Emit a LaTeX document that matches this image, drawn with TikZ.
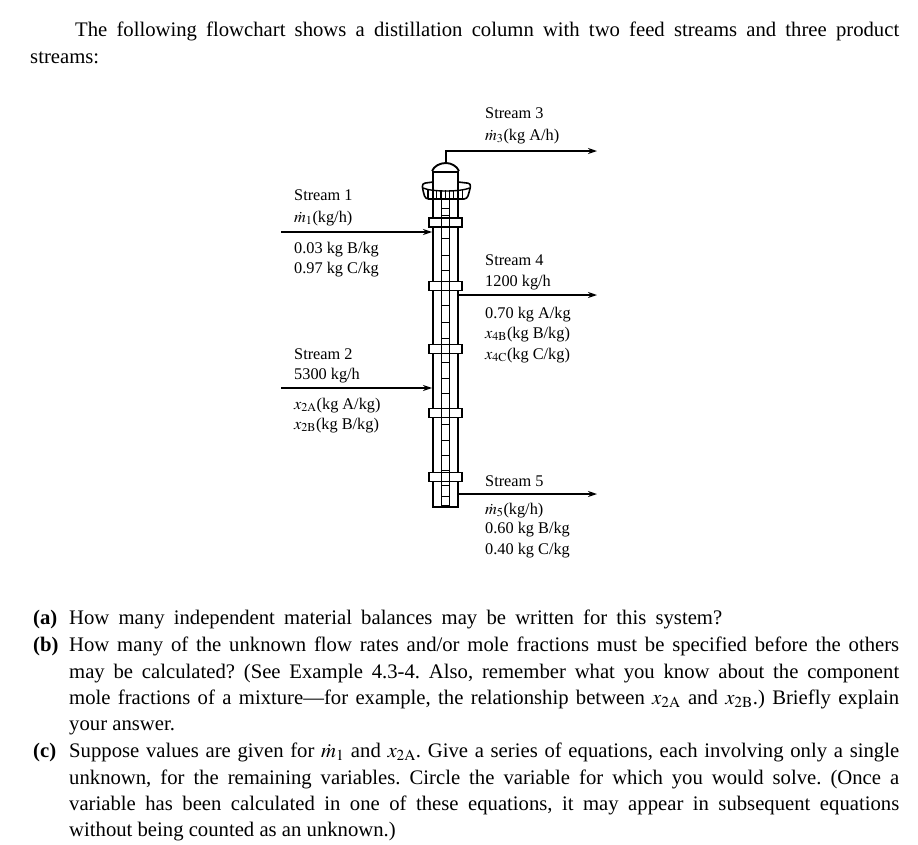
\documentclass[tikz,border=0pt]{standalone}
\usepackage{amsmath}
\usepackage{mathptmx}
\usepackage{fontspec}
\setmainfont{Liberation Serif}
\usepackage{tikz}
\usetikzlibrary{arrows.meta,positioning,calc}

\newcommand{\xsub}[1]{x_{\mathrm{#1}}}
\tikzset{
	label text/.style={anchor=base west, inner sep=0pt, font=\fontsize{16.3}{20}\selectfont},
	body text/.style={anchor=north west, inner sep=0pt, align=justify, font=\fontsize{20.7}{26.3}\selectfont\frenchspacing},
	item tag/.style={anchor=north west, inner sep=0pt, font=\fontsize{20.7}{26.3}\selectfont\bfseries},
	flow/.style={line width=1.5pt, -{Stealth[length=9pt,width=6pt]}},
	flange/.style={draw, fill=white, line width=1.9pt, minimum width=33pt, minimum height=9pt, inner sep=0pt},
	shell/.style={draw, line width=1.9pt, minimum width=25pt, minimum height=335pt, inner sep=0pt},
	ladder/.style={line width=1pt}
}

\begin{document}
\begin{tikzpicture}[x=1pt,y=-1pt]
	\useasboundingbox (0,0) rectangle (918,844);

	% text above the column
	\node[body text, text width=869pt] (intro) at (30,22) {\hspace*{45pt}The following flowchart shows a distillation column with two feed streams and three product\linebreak streams:};

	% column
	\node[shell] (column) at (445.5,339.5) {};
	\coordinate (domeleft) at (column.north west);
	\coordinate (domeright) at (column.north east);
	\coordinate (dometop) at (446,163);
	\draw[line width=1.9pt] (domeleft) .. controls (434,166) and (440,163) .. (dometop) .. controls (451,163) and (457,166) .. (domeright);
	\draw[line width=1.6pt, rounded corners=3pt] (433,182) -- (422,183.5) -- (423,191) -- (425.5,199) -- (467,199) -- (469.5,191) -- (471,183.5) -- (458,182);
	\draw[line width=1.4pt] (423,188) .. controls (432,192) and (460,192) .. (469.5,188);
	\foreach \x in {428,432.3,...,466} {
		\draw[line width=1.3pt] (\x,190) -- (\x,199);
	}
	\foreach \n/\y in {a/222.5,b/286,c/349,d/413,e/477} {
		\node[flange] (flange\n) at (445.7,\y) {};
	}
	\draw[ladder] (441.6,199) -- (441.6,505) -- (449.5,505) -- (449.5,199);
	\foreach \y in {208,215,238,255,270,305,322,338,362,378,393,424,440,455,470,485,496} {
		\draw[ladder] (441.6,\y) -- (449.5,\y);
	}

	% streams
	\coordinate (tailone) at (281,232);
	\coordinate (tailtwo) at (281,388);
	\coordinate (pipebend) at (446,151);
	\coordinate (headthree) at (597,151);
	\coordinate (headfour) at (597,295);
	\coordinate (headfive) at (597,494);
	\draw[flow] (tailone) -- (tailone -| column.west);
	\draw[flow] (tailtwo) -- (tailtwo -| column.west);
	\draw[flow] (dometop) -- (pipebend) -- (headthree);
	\draw[flow] (headfour -| column.east) -- (headfour);
	\draw[flow] (headfive -| column.east) -- (headfive);

	% stream labels
	\node[label text] (sone) at (294,200) {Stream 1};
	\node[label text] (mone) at (294,222) {$\dot{m}_1$(kg/h)};
	\node[label text] (bone) at (294,253) {0.03 kg B/kg};
	\node[label text] (cone) at (294,273) {0.97 kg C/kg};

	\node[label text] (stwo) at (294,359) {Stream 2};
	\node[label text] (mtwo) at (294,379) {5300 kg/h};
	\node[label text] (atwo) at (294,409) {$\xsub{2A}$(kg A/kg)};
	\node[label text] (btwo) at (294,429) {$\xsub{2B}$(kg B/kg)};

	\node[label text] (sthree) at (485,118) {Stream 3};
	\node[label text] (mthree) at (485,140) {$\dot{m}_3$(kg A/h)};

	\node[label text] (sfour) at (485,265) {Stream 4};
	\node[label text] (mfour) at (485,286) {1200 kg/h};
	\node[label text] (afour) at (485,318) {0.70 kg A/kg};
	\node[label text] (bfour) at (485,338) {$\xsub{4B}$(kg B/kg)};
	\node[label text] (cfour) at (485,359) {$\xsub{4C}$(kg C/kg)};

	\node[label text] (sfive) at (485,486) {Stream 5};
	\node[label text] (mfive) at (485,514) {$\dot{m}_5$(kg/h)};
	\node[label text] (bfive) at (485,533) {0.60 kg B/kg};
	\node[label text] (cfive) at (485,554) {0.40 kg C/kg};

	% questions
	\node[item tag] (taga) at (33,610) {(a)};
	\node[body text, text width=830pt] (itema) at (69,610) {\makebox[653pt][s]{How many independent material balances may be written for this system?}};
	\node[item tag] (tagb) at (33,637) {(b)};
	\node[body text, text width=830pt] (itemb) at (69,637) {How many of the unknown flow rates and/or mole fractions must be specified before the others\linebreak may be calculated? (See Example 4.3-4. Also, remember what you know about the component\linebreak mole fractions of a mixture---for example, the relationship between $\xsub{2A}$ and $\xsub{2B}$.) Briefly explain\linebreak your answer.};
	\node[item tag] (tagc) at (33,743) {(c)};
	\node[body text, text width=830pt] (itemc) at (69,743) {Suppose values are given for $\dot{m}_1$ and $\xsub{2A}$. Give a series of equations, each involving only a single\linebreak unknown, for the remaining variables. Circle the variable for which you would solve. (Once a\linebreak variable has been calculated in one of these equations, it may appear in subsequent equations\linebreak without being counted as an unknown.)};
\end{tikzpicture}
\end{document}
